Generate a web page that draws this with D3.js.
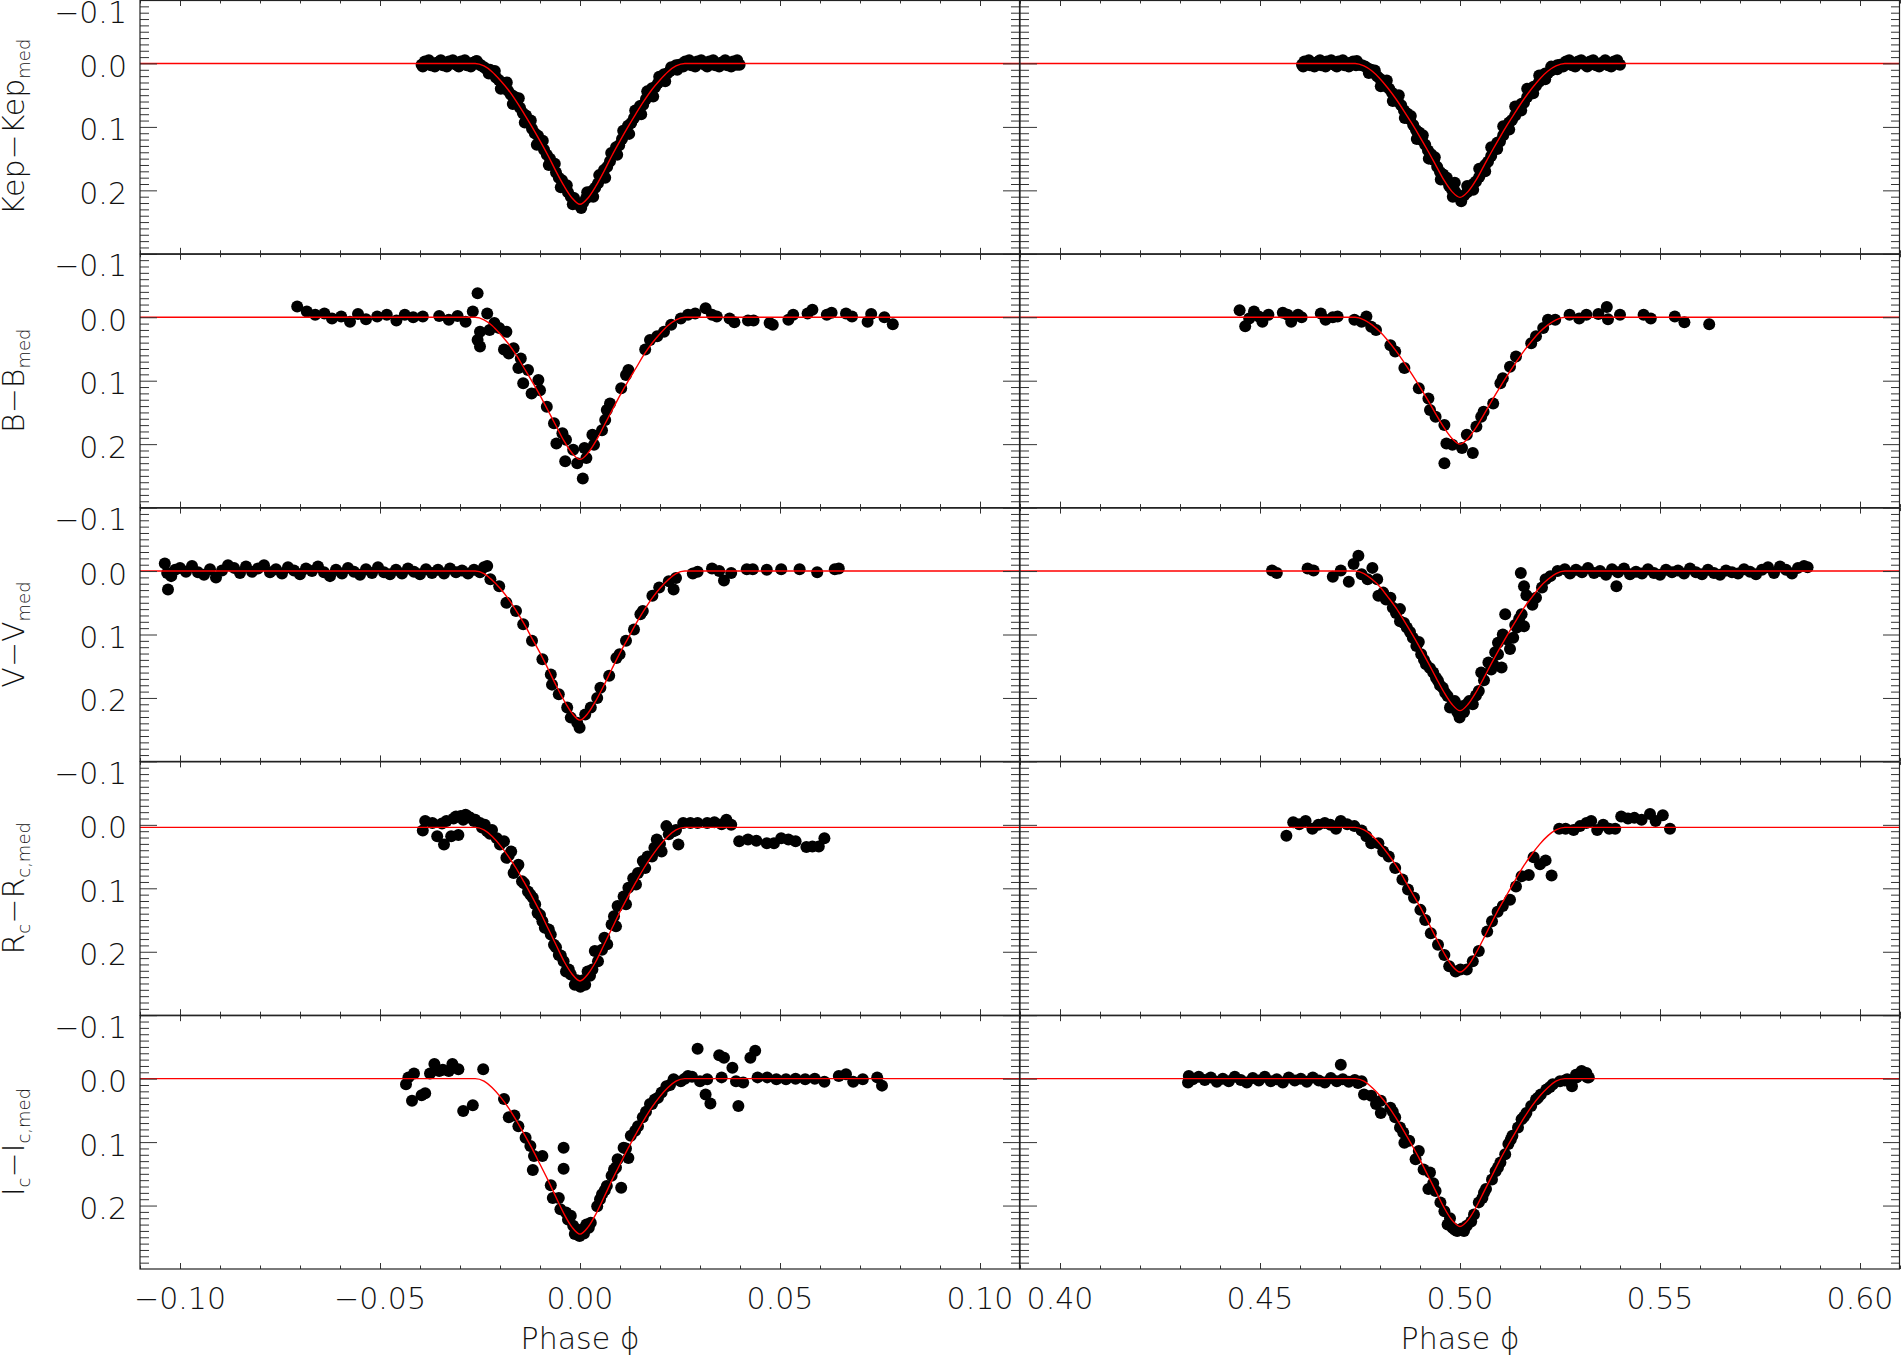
<!DOCTYPE html>
<html>
<head>
<meta charset="utf-8">
<script src="https://cdn.jsdelivr.net/npm/d3@7"></script>
<style>
  body { margin: 0; background: #fff; }
  text { font-family: "DejaVu Sans", sans-serif; font-weight: 200; fill: #111; }
</style>
</head>
<body>
<div id="chart"></div>
<script>
// ---- tick labels / categories ----
const rowNames = ["Kep", "B", "V", "Rc", "Ic"];
const yMajorTicks = [-0.1, 0.0, 0.1, 0.2];
const yTickLabels = ["\u22120.1", "0.0", "0.1", "0.2"];
const xMajorLeft = [-0.10, -0.05, 0.00, 0.05, 0.10];
const xLabelsLeft = ["\u22120.10", "\u22120.05", "0.00", "0.05", "0.10"];
const xMajorRight = [0.40, 0.45, 0.50, 0.55, 0.60];
const xLabelsRight = ["0.40", "0.45", "0.50", "0.55", "0.60"];
const eclipseCenters = [0.0, 0.5];

// ---- model light curves (phase offset from mid-eclipse, magnitude) ----
const modelDphi = [-0.0262, -0.024, -0.022, -0.020, -0.018, -0.016, -0.014, -0.012, -0.010, -0.008, -0.006, -0.004, -0.002, 0,
                   0.002, 0.004, 0.006, 0.008, 0.010, 0.012, 0.014, 0.016, 0.018, 0.020, 0.022, 0.024, 0.0262];
const modelKepP = [0, .004, .013, .026, .041, .059, .079, .100, .122, .145, .170, .193, .212, .222, .212, .193, .170, .145, .122, .100, .079, .059, .041, .026, .013, .004, 0];
const modelBP   = [0, .004, .013, .026, .041, .059, .080, .101, .123, .147, .171, .195, .214, .224, .214, .195, .171, .147, .123, .101, .080, .059, .041, .026, .013, .004, 0];
const modelVP   = [0, .004, .014, .027, .043, .062, .083, .106, .129, .154, .180, .204, .224, .235, .224, .204, .180, .154, .129, .106, .083, .062, .043, .027, .014, .004, 0];
const modelRcP  = [.004, .008, .018, .032, .049, .068, .090, .113, .137, .163, .189, .215, .235, .246, .235, .215, .189, .163, .137, .113, .090, .068, .049, .032, .018, .008, .004];
const modelIcP  = [0, .004, .014, .028, .045, .065, .087, .110, .135, .160, .187, .213, .234, .245, .234, .213, .187, .160, .135, .110, .087, .065, .045, .028, .014, .004, 0];
const modelKepS = [0, .004, .012, .024, .039, .056, .075, .095, .116, .138, .161, .184, .202, .211, .202, .184, .161, .138, .116, .095, .075, .056, .039, .024, .012, .004, 0];
const modelBS   = [0, .004, .012, .023, .037, .053, .071, .090, .110, .131, .153, .174, .191, .200, .191, .174, .153, .131, .110, .090, .071, .053, .037, .023, .012, .004, 0];
const modelVS   = [0, .004, .013, .025, .041, .058, .078, .099, .121, .144, .168, .191, .210, .220, .210, .191, .168, .144, .121, .099, .078, .058, .041, .025, .013, .004, 0];
const modelRcS  = [.004, .008, .017, .030, .046, .064, .085, .107, .129, .153, .178, .202, .222, .232, .222, .202, .178, .153, .129, .107, .085, .064, .046, .030, .017, .008, .004];
const modelIcS  = [0, .004, .014, .027, .043, .062, .083, .105, .128, .153, .178, .203, .223, .233, .223, .203, .178, .153, .128, .105, .083, .062, .043, .027, .014, .004, 0];

// ---- observations [phase, magnitude - median] ----
const kepP = [[-0.0396,0.002],[-0.0381,-0.002],[-0.0366,0.001],[-0.0351,-0.003],[-0.0336,0.002],[-0.0321,-0.001],[-0.0306,0.003],[-0.0291,-0.002],[-0.0276,0.001],[-0.0261,-0.003],[-0.0250,0.002],[-0.0240,0.006],[-0.0225,0.010],[-0.0210,0.022],[-0.0195,0.030],[-0.0180,0.043],[-0.0165,0.052],[-0.0150,0.070],[-0.0135,0.082],[-0.0120,0.103],[-0.0105,0.114],[-0.0090,0.136],[-0.0075,0.150],[-0.0060,0.172],[-0.0045,0.184],[-0.0030,0.203],[-0.0015,0.212],[0.0000,0.224],[0.0015,0.213],[0.0030,0.201],[0.0045,0.189],[0.0060,0.168],[0.0075,0.154],[0.0090,0.132],[0.0105,0.119],[0.0120,0.098],[0.0135,0.086],[0.0150,0.067],[0.0165,0.056],[0.0180,0.039],[0.0195,0.031],[0.0210,0.017],[0.0225,0.012],[0.0240,0.003],[0.0255,0.001],[0.0270,-0.002],[0.0285,0.002],[0.0300,-0.001],[0.0315,0.003],[0.0330,-0.002],[0.0345,0.001],[0.0360,-0.003],[0.0375,0.002],[0.0390,-0.001],[0.0399,0.002],
  [-0.0388,-0.003],[-0.0373,0.003],[-0.0358,-0.001],[-0.0343,0.003],[-0.0328,-0.003],[-0.0313,0.001],[-0.0298,-0.003],[-0.0283,0.003],[-0.0268,-0.001],[-0.0248,0.003],[-0.0233,0.009],[-0.0218,0.016],[-0.0203,0.026],[-0.0188,0.038],[-0.0173,0.049],[-0.0158,0.063],[-0.0143,0.078],[-0.0128,0.093],[-0.0113,0.110],[-0.0098,0.127],[-0.0083,0.144],[-0.0068,0.160],[-0.0053,0.180],[-0.0038,0.194],[-0.0023,0.210],[-0.0008,0.220],[0.0008,0.219],[0.0023,0.208],[0.0038,0.196],[0.0053,0.177],[0.0068,0.163],[0.0083,0.141],[0.0098,0.129],[0.0113,0.107],[0.0128,0.094],[0.0143,0.076],[0.0158,0.065],[0.0173,0.047],[0.0188,0.037],[0.0203,0.024],[0.0218,0.016],[0.0233,0.007],[0.0248,0.002],[0.0263,-0.003],[0.0278,0.003],[0.0293,-0.003],[0.0308,0.001],[0.0323,-0.003],[0.0338,0.003],[0.0353,-0.001],[0.0368,0.003],[0.0383,-0.003],[0.0392,0.002],
  [-0.0393,0.005],[-0.0378,-0.005],[-0.0363,0.005],[-0.0348,-0.005],[-0.0333,0.005],[-0.0318,-0.005],[-0.0303,0.005],[-0.0288,-0.005],[-0.0273,0.005],[-0.0258,-0.004],[-0.0228,0.016],[-0.0213,0.012],[-0.0198,0.040],[-0.0183,0.030],[-0.0168,0.064],[-0.0153,0.055],[-0.0138,0.093],[-0.0123,0.090],[-0.0108,0.128],[-0.0093,0.122],[-0.0078,0.160],[-0.0063,0.158],[-0.0048,0.195],[-0.0033,0.192],[-0.0018,0.222],[0.0003,0.228],[0.0018,0.203],[0.0033,0.210],[0.0048,0.176],[0.0063,0.180],[0.0078,0.141],[0.0093,0.144],[0.0108,0.106],[0.0123,0.111],[0.0138,0.074],[0.0153,0.080],[0.0168,0.044],[0.0183,0.052],[0.0198,0.021],[0.0213,0.028],[0.0228,0.006],[0.0243,0.010],[0.0258,0.005],[0.0273,-0.005],[0.0288,0.005],[0.0303,-0.005],[0.0318,0.005],[0.0333,-0.005],[0.0348,0.005],[0.0363,-0.005],[0.0378,0.005],[0.0393,-0.005]];

const kepS = [[0.4605,0.002],[0.4618,-0.002],[0.4632,0.001],[0.4646,-0.003],[0.4660,0.002],[0.4674,-0.001],[0.4688,0.003],[0.4703,-0.002],[0.4718,0.001],[0.4733,-0.003],[0.4748,0.002],[0.4763,0.005],[0.4778,0.010],[0.4793,0.020],[0.4808,0.029],[0.4823,0.040],[0.4838,0.050],[0.4853,0.066],[0.4868,0.079],[0.4883,0.097],[0.4898,0.109],[0.4913,0.128],[0.4928,0.143],[0.4943,0.163],[0.4958,0.175],[0.4973,0.193],[0.4987,0.188],[0.4988,0.202],[0.5003,0.214],[0.5018,0.203],[0.5033,0.190],[0.5048,0.179],[0.5063,0.160],[0.5078,0.146],[0.5093,0.125],[0.5108,0.113],[0.5123,0.093],[0.5138,0.082],[0.5153,0.064],[0.5168,0.053],[0.5183,0.037],[0.5198,0.029],[0.5213,0.016],[0.5228,0.011],[0.5243,0.003],[0.5258,0.001],[0.5273,-0.002],[0.5288,0.002],[0.5303,-0.001],[0.5318,0.003],[0.5333,-0.002],[0.5348,0.001],[0.5363,-0.003],[0.5378,0.002],[0.5393,-0.001],[0.5400,0.002],
  [0.4611,-0.003],[0.4625,0.003],[0.4639,-0.001],[0.4653,0.003],[0.4667,-0.003],[0.4681,0.001],[0.4696,-0.003],[0.4711,0.003],[0.4726,-0.001],[0.4740,0.003],[0.4755,0.003],[0.4770,0.008],[0.4785,0.015],[0.4800,0.024],[0.4815,0.036],[0.4830,0.046],[0.4845,0.060],[0.4860,0.074],[0.4875,0.088],[0.4890,0.105],[0.4905,0.121],[0.4920,0.137],[0.4935,0.152],[0.4950,0.171],[0.4965,0.184],[0.4980,0.199],[0.4995,0.209],[0.5010,0.208],[0.5025,0.198],[0.5040,0.186],[0.5055,0.168],[0.5070,0.155],[0.5085,0.134],[0.5100,0.123],[0.5115,0.102],[0.5130,0.089],[0.5145,0.072],[0.5160,0.062],[0.5175,0.045],[0.5190,0.035],[0.5205,0.023],[0.5220,0.015],[0.5235,0.007],[0.5250,0.002],[0.5265,-0.003],[0.5280,0.003],[0.5295,-0.003],[0.5310,0.001],[0.5325,-0.003],[0.5340,0.003],[0.5355,-0.001],[0.5370,0.003],[0.5385,-0.003],[0.5396,0.001],
  [0.4608,0.005],[0.4622,-0.005],[0.4636,0.005],[0.4650,-0.005],[0.4664,0.005],[0.4678,-0.005],[0.4692,0.005],[0.4707,-0.005],[0.4722,0.005],[0.4742,-0.004],[0.4772,0.015],[0.4787,0.011],[0.4802,0.036],[0.4817,0.027],[0.4832,0.059],[0.4847,0.050],[0.4862,0.086],[0.4877,0.083],[0.4892,0.119],[0.4907,0.113],[0.4922,0.150],[0.4937,0.148],[0.4952,0.183],[0.4967,0.180],[0.4982,0.210],[0.5003,0.217],[0.5018,0.193],[0.5033,0.199],[0.5048,0.166],[0.5063,0.170],[0.5078,0.132],[0.5093,0.135],[0.5108,0.099],[0.5123,0.104],[0.5138,0.068],[0.5153,0.074],[0.5168,0.040],[0.5183,0.047],[0.5198,0.019],[0.5213,0.025],[0.5228,0.005],[0.5243,0.009],[0.5258,0.005],[0.5273,-0.005],[0.5288,0.005],[0.5303,-0.005],[0.5318,0.005],[0.5333,-0.005],[0.5348,0.005],[0.5363,-0.005],[0.5378,0.005],[0.5393,-0.005]];

const bP = [[-0.0707,-0.017],[-0.0683,-0.009],[-0.0662,-0.004],[-0.0639,-0.006],[-0.0620,0.002],[-0.0597,-0.001],[-0.0575,0.007],[-0.0555,-0.005],[-0.0535,0.003],[-0.0507,-0.001],[-0.0483,-0.004],[-0.0459,0.005],[-0.0438,-0.004],[-0.0417,0.000],[-0.0393,-0.001],[-0.0352,-0.002],[-0.0328,0.004],[-0.0306,-0.002],[-0.0286,0.007],[-0.0268,-0.009],[-0.0256,-0.038],[-0.0250,0.023],[-0.0256,0.036],[-0.0250,0.046],[-0.0232,-0.006],[-0.0226,0.020],[-0.0214,0.009],[-0.0202,0.017],[-0.0184,0.023],[-0.0190,0.051],[-0.0178,0.057],[-0.0166,0.049],[-0.0148,0.065],[-0.0154,0.080],[-0.0130,0.083],[-0.0142,0.104],[-0.0104,0.099],[-0.0121,0.120],[-0.0100,0.115],[-0.0083,0.141],[-0.0065,0.167],[-0.0059,0.199],[-0.0044,0.183],[-0.0035,0.193],[-0.0037,0.227],[-0.0017,0.209],[-0.0007,0.230],[0.0007,0.254],[0.0011,0.206],[0.0016,0.222],[0.0035,0.201],[0.0031,0.185],[0.0055,0.178],[0.0063,0.162],[0.0067,0.146],[0.0075,0.136],[0.0103,0.112],[0.0115,0.091],[0.0121,0.083],[0.0163,0.051],[0.0175,0.036],[0.0193,0.030],[0.0210,0.023],[0.0228,0.012],[0.0252,0.002],[0.0270,-0.004],[0.0288,-0.006],[0.0314,-0.014],[0.0330,-0.004],[0.0342,-0.001],[0.0374,0.002],[0.0386,0.008],[0.0420,0.005],[0.0434,0.005],[0.0474,0.009],[0.0482,0.012],[0.0521,0.004],[0.0533,-0.004],[0.0569,-0.006],[0.0581,-0.012],[0.0617,-0.004],[0.0629,-0.007],[0.0665,-0.006],[0.0680,-0.001],[0.0719,0.007],[0.0728,-0.005],[0.0761,0.000],[0.0782,0.011]];

const bS = [[0.4449,-0.011],[0.4463,0.014],[0.4473,0.002],[0.4485,-0.009],[0.4497,-0.001],[0.4506,0.007],[0.4521,-0.004],[0.4557,-0.007],[0.4569,-0.004],[0.4578,0.007],[0.4595,-0.004],[0.4604,0.000],[0.4652,-0.006],[0.4664,0.004],[0.4682,0.000],[0.4694,-0.001],[0.4736,0.004],[0.4754,0.007],[0.4766,-0.001],[0.4778,0.015],[0.4790,0.020],[0.4826,0.044],[0.4838,0.054],[0.4861,0.080],[0.4897,0.112],[0.4921,0.128],[0.4925,0.146],[0.4939,0.157],[0.4961,0.170],[0.4966,0.199],[0.4961,0.230],[0.4981,0.201],[0.5005,0.206],[0.5017,0.185],[0.5032,0.214],[0.5041,0.172],[0.5053,0.157],[0.5059,0.149],[0.5083,0.136],[0.5101,0.104],[0.5107,0.096],[0.5125,0.078],[0.5140,0.062],[0.5178,0.041],[0.5190,0.030],[0.5208,0.017],[0.5220,0.004],[0.5238,0.004],[0.5274,-0.004],[0.5298,0.002],[0.5316,-0.004],[0.5346,-0.005],[0.5367,-0.016],[0.5370,0.003],[0.5400,-0.004],[0.5459,-0.004],[0.5477,0.002],[0.5537,-0.001],[0.5561,0.008],[0.5623,0.011]];

const vP = [[-0.1038,-0.012],[-0.1032,0.003],[-0.1030,0.029],[-0.1022,0.008],[-0.1012,-0.002],[-0.1000,-0.005],[-0.0985,0.001],[-0.0970,-0.008],[-0.0955,0.002],[-0.0940,0.006],[-0.0925,-0.003],[-0.0910,0.010],[-0.0895,-0.001],[-0.0880,-0.009],[-0.0865,-0.005],[-0.0850,0.003],[-0.0835,-0.007],[-0.0820,0.001],[-0.0805,-0.004],[-0.0790,-0.009],[-0.0775,0.002],[-0.0760,-0.003],[-0.0745,0.004],[-0.0730,-0.006],[-0.0715,-0.001],[-0.0700,0.005],[-0.0685,-0.004],[-0.0670,0.000],[-0.0655,-0.007],[-0.0640,0.002],[-0.0625,0.008],[-0.0610,-0.002],[-0.0595,0.004],[-0.0580,-0.005],[-0.0565,0.001],[-0.0550,0.006],[-0.0535,-0.003],[-0.0520,0.003],[-0.0505,-0.006],[-0.0490,0.002],[-0.0475,0.005],[-0.0460,-0.002],[-0.0445,0.004],[-0.0430,-0.004],[-0.0415,0.001],[-0.0400,0.005],[-0.0385,-0.003],[-0.0370,0.003],[-0.0355,-0.002],[-0.0340,0.004],[-0.0325,-0.004],[-0.0310,0.002],[-0.0295,-0.001],[-0.0280,0.004],[-0.0265,-0.002],[-0.0250,0.002],[-0.0240,-0.006],
  [-0.0232,-0.008],[-0.0224,0.013],[-0.0202,0.024],[-0.0184,0.050],[-0.0160,0.063],[-0.0142,0.084],[-0.0120,0.110],[-0.0094,0.139],[-0.0073,0.163],[-0.0070,0.179],[-0.0053,0.194],[-0.0032,0.215],[-0.0023,0.231],[-0.0007,0.239],[-0.0001,0.247],[0.0013,0.226],[0.0027,0.215],[0.0043,0.200],[0.0051,0.184],[0.0073,0.165],[0.0091,0.137],[0.0099,0.131],[0.0115,0.110],[0.0135,0.092],[0.0151,0.068],[0.0157,0.063],[0.0181,0.039],[0.0198,0.026],[0.0222,0.016],[0.0234,0.029],[0.0240,0.011],[0.0282,0.004],[0.0294,0.001],[0.0330,-0.004],[0.0348,0.000],[0.0360,0.015],[0.0378,0.003],[0.0417,-0.003],[0.0432,-0.003],[0.0467,-0.002],[0.0503,-0.003],[0.0549,-0.003],[0.0593,0.002],[0.0637,-0.003],[0.0647,-0.004]];

const vS = [[0.4530,-0.001],[0.4542,0.003],[0.4619,-0.004],[0.4634,-0.001],[0.4682,0.009],[0.4702,-0.001],[0.4722,0.017],[0.4734,-0.011],[0.4746,-0.024],[0.4754,0.005],[0.4769,0.013],[0.4781,-0.005],[0.4793,0.013],[0.4796,0.039],[0.4808,0.034],[0.4826,0.042],[0.4832,0.058],[0.4850,0.060],[0.4850,0.079],[0.4867,0.089],[0.4882,0.105],[0.4891,0.118],[0.4903,0.131],[0.4915,0.147],[0.4933,0.160],[0.4945,0.173],[0.4957,0.184],[0.4969,0.197],[0.4975,0.215],[0.4987,0.205],[0.4999,0.231],[0.5005,0.213],[0.5023,0.205],[0.5032,0.210],[0.5047,0.189],[0.5053,0.160],[0.5071,0.144],[0.5083,0.147],[0.5095,0.131],[0.5104,0.152],[0.5095,0.113],[0.5107,0.100],[0.5113,0.068],[0.5125,0.123],[0.5133,0.105],[0.5142,0.089],[0.5154,0.068],[0.5160,0.087],[0.5152,0.003],[0.5160,0.024],[0.5166,0.038],[0.5181,0.053],[0.5190,0.042],[0.5205,0.026],[0.5214,0.013],[0.5226,0.008],[0.5244,0.000],
  [0.4815,0.045],[0.4840,0.066],[0.4860,0.082],[0.4875,0.096],[0.4897,0.112],[0.4910,0.140],[0.4925,0.153],[0.4940,0.168],[0.4950,0.180],[0.4963,0.192],[0.4980,0.212],[0.4993,0.222],[0.5010,0.222],[0.5017,0.210],[0.5040,0.196],[0.5060,0.172],[0.5078,0.155],[0.5088,0.128],[0.5118,0.108],[0.5138,0.085],[0.5148,0.075],
  [0.5262,-0.003],[0.5275,0.004],[0.5290,-0.002],[0.5305,0.002],[0.5320,-0.005],[0.5335,0.003],[0.5350,0.000],[0.5365,0.006],[0.5380,-0.003],[0.5391,0.024],[0.5395,0.002],[0.5410,-0.004],[0.5425,0.005],[0.5440,0.001],[0.5455,0.004],[0.5470,-0.003],[0.5485,0.003],[0.5500,0.006],[0.5515,-0.002],[0.5530,0.002],[0.5545,-0.001],[0.5560,0.004],[0.5575,-0.004],[0.5590,0.002],[0.5605,0.005],[0.5620,-0.002],[0.5635,0.003],[0.5650,0.006],[0.5665,-0.001],[0.5680,0.002],[0.5695,0.004],[0.5710,-0.003],[0.5725,0.001],[0.5740,0.005],[0.5755,-0.002],[0.5770,-0.006],[0.5785,0.003],[0.5800,-0.007],[0.5815,-0.002],[0.5830,0.004],[0.5845,-0.005],[0.5860,-0.008],[0.5869,-0.006]];

const rcP = [[-0.0387,-0.006],[-0.0393,0.009],[-0.0369,-0.003],[-0.0357,0.018],[-0.0340,0.031],[-0.0334,-0.006],[-0.0322,0.018],[-0.0310,-0.013],[-0.0304,0.016],[-0.0286,-0.016],[-0.0274,-0.011],[-0.0262,-0.008],[-0.0250,-0.003],[-0.0238,0.000],[-0.0232,0.010],[-0.0220,0.008],[-0.0208,0.021],[-0.0190,0.026],[-0.0184,0.052],[-0.0172,0.042],[-0.0166,0.076],[-0.0154,0.063],[-0.0145,0.089],[-0.0130,0.105],[-0.0118,0.115],[-0.0106,0.139],[-0.0094,0.152],[-0.0088,0.162],[-0.0073,0.173],[-0.0065,0.189],[-0.0053,0.205],[-0.0041,0.215],[-0.0035,0.231],[-0.0023,0.236],[-0.0013,0.252],[0.0001,0.255],[0.0013,0.252],[0.0019,0.231],[0.0031,0.228],[0.0037,0.199],[0.0055,0.197],[0.0061,0.178],[0.0079,0.157],[0.0085,0.144],[0.0094,0.128],[0.0109,0.113],[0.0121,0.099],[0.0133,0.084],[0.0145,0.076],[0.0157,0.057],[0.0169,0.050],[0.0186,0.036],[0.0192,0.023],[0.0204,0.042],[0.0216,0.002],[0.0234,0.010],[0.0246,0.031],[0.0258,-0.003],[0.0276,-0.003],[0.0294,-0.003],[0.0318,-0.003],[0.0336,-0.004],[0.0354,-0.001],[0.0366,-0.008],[0.0378,0.000],[0.0398,0.026],[0.0420,0.023],[0.0441,0.025],[0.0467,0.029],[0.0485,0.029],[0.0503,0.021],[0.0521,0.023],[0.0539,0.026],[0.0566,0.035],[0.0581,0.034],[0.0597,0.034],[0.0611,0.021],
  [-0.0316,-0.010],[-0.0298,-0.014],[-0.0280,-0.013],[-0.0292,-0.008],[-0.0265,-0.006],[-0.0345,-0.002],[-0.0245,0.004],[-0.0225,0.014],[-0.0200,0.031],[-0.0178,0.048],[-0.0160,0.068],[-0.0140,0.092],[-0.0124,0.110],[-0.0112,0.125],[-0.0100,0.142],[-0.0078,0.165],[-0.0060,0.193],[-0.0048,0.206],[-0.0028,0.228],[-0.0008,0.245],[0.0008,0.245],[0.0025,0.238],[0.0045,0.215],[0.0068,0.188],[0.0090,0.160],[0.0115,0.125],[0.0140,0.094],[0.0163,0.068],[0.0180,0.050],[0.0200,0.030],[0.0222,0.015],[0.0240,0.008]];

const rcS = [[0.4566,0.017],[0.4583,-0.004],[0.4598,-0.001],[0.4614,-0.006],[0.4631,0.006],[0.4646,0.000],[0.4662,-0.003],[0.4676,0.000],[0.4690,0.006],[0.4702,-0.006],[0.4718,-0.001],[0.4736,0.002],[0.4754,0.009],[0.4766,0.018],[0.4778,0.029],[0.4796,0.029],[0.4808,0.042],[0.4822,0.050],[0.4838,0.068],[0.4856,0.086],[0.4870,0.102],[0.4885,0.115],[0.4901,0.134],[0.4913,0.150],[0.4927,0.171],[0.4945,0.189],[0.4961,0.205],[0.4973,0.223],[0.4989,0.231],[0.5001,0.228],[0.5017,0.228],[0.5032,0.215],[0.5047,0.199],[0.5068,0.168],[0.5080,0.152],[0.5094,0.137],[0.5107,0.128],[0.5125,0.118],[0.5140,0.097],[0.5154,0.081],[0.5172,0.079],[0.5184,0.051],[0.5200,0.062],[0.5214,0.056],[0.5229,0.080],[0.5248,0.006],[0.5264,0.006],[0.5284,0.008],[0.5300,0.002],[0.5316,-0.003],[0.5328,-0.006],[0.5343,0.008],[0.5358,0.000],[0.5373,0.006],[0.5388,0.006],[0.5403,-0.013],[0.5420,-0.010],[0.5436,-0.011],[0.5454,-0.008],[0.5475,-0.017],[0.5489,-0.006],[0.5507,-0.015],[0.5525,0.006]];

const icP = [[-0.0435,0.009],[-0.0429,-0.002],[-0.0420,0.035],[-0.0415,-0.008],[-0.0396,0.026],[-0.0387,0.023],[-0.0375,-0.008],[-0.0364,-0.023],[-0.0352,-0.012],[-0.0343,-0.014],[-0.0328,-0.012],[-0.0319,-0.023],[-0.0304,-0.015],[-0.0292,0.051],[-0.0268,0.042],[-0.0242,-0.015],[-0.0190,0.032],[-0.0178,0.061],[-0.0164,0.058],[-0.0154,0.075],[-0.0136,0.093],[-0.0124,0.106],[-0.0115,0.122],[-0.0118,0.144],[-0.0094,0.122],[-0.0073,0.168],[-0.0068,0.188],[-0.0053,0.188],[-0.0049,0.206],[-0.0041,0.109],[-0.0041,0.142],[-0.0035,0.211],[-0.0023,0.216],[-0.0017,0.232],[-0.0013,0.245],[-0.0001,0.248],[0.0007,0.237],[0.0016,0.230],[0.0027,0.227],[0.0043,0.201],[0.0055,0.182],[0.0067,0.169],[0.0079,0.153],[0.0085,0.143],[0.0103,0.172],[0.0094,0.127],[0.0109,0.109],[0.0121,0.125],[0.0127,0.090],[0.0145,0.075],[0.0157,0.061],[0.0175,0.040],[0.0187,0.033],[0.0204,0.022],[0.0216,0.012],[0.0234,0.001],[0.0252,0.004],[0.0270,-0.004],[0.0294,-0.047],[0.0300,0.004],[0.0314,0.025],[0.0326,0.039],[0.0318,0.001],[0.0348,-0.037],[0.0360,-0.033],[0.0354,-0.002],[0.0381,-0.017],[0.0396,0.043],[0.0390,0.004],[0.0408,0.006],[0.0426,-0.033],[0.0438,-0.044],[0.0444,-0.002],[0.0468,-0.002],[0.0491,0.001],[0.0515,0.001],[0.0539,0.000],[0.0563,0.001],[0.0587,0.000],[0.0611,0.005],[0.0647,-0.004],[0.0665,-0.007],[0.0683,0.005],[0.0707,0.001],[0.0743,-0.002],[0.0755,0.011],
  [0.0050,0.190],[0.0062,0.176],[0.0090,0.140],[0.0115,0.110],[0.0138,0.082],[0.0165,0.052],[0.0180,0.040],[0.0195,0.030],[0.0225,0.010],[0.0262,0.000],[0.0280,-0.003],[-0.0030,0.222],[-0.0008,0.238],[0.0010,0.244],[0.0022,0.235]];

const icS = [[0.4320,0.006],[0.4322,-0.004],[0.4332,0.001],[0.4347,-0.003],[0.4362,0.002],[0.4377,-0.002],[0.4392,0.005],[0.4407,0.000],[0.4422,0.004],[0.4437,-0.003],[0.4452,0.002],[0.4467,0.006],[0.4482,-0.001],[0.4497,0.003],[0.4512,-0.003],[0.4527,0.004],[0.4542,0.001],[0.4557,0.006],[0.4572,-0.002],[0.4587,0.003],[0.4602,0.000],[0.4617,0.005],[0.4632,-0.002],[0.4647,0.003],[0.4662,0.006],[0.4677,-0.001],[0.4692,0.004],[0.4702,-0.022],[0.4707,0.001],[0.4722,0.005],[0.4737,0.002],[0.4745,0.007],
  [0.4754,0.004],[0.4760,0.025],[0.4778,0.027],[0.4802,0.035],[0.4802,0.054],[0.4826,0.046],[0.4838,0.061],[0.4850,0.077],[0.4861,0.101],[0.4873,0.098],[0.4889,0.127],[0.4897,0.114],[0.4909,0.143],[0.4925,0.148],[0.4921,0.174],[0.4939,0.177],[0.4951,0.195],[0.4961,0.209],[0.4969,0.230],[0.4981,0.235],[0.4993,0.240],[0.5005,0.236],[0.5017,0.232],[0.5035,0.214],[0.5047,0.195],[0.5056,0.188],[0.5065,0.174],[0.5080,0.159],[0.5089,0.146],[0.5101,0.132],[0.5113,0.119],[0.5121,0.103],[0.5131,0.090],[0.5145,0.077],[0.5154,0.064],[0.5166,0.054],[0.5178,0.043],[0.5190,0.033],[0.5202,0.025],[0.5216,0.017],[0.5232,0.009],[0.5250,0.004],[0.5268,0.001],[0.5280,0.012],[0.5292,-0.002],[0.5304,-0.012],[0.5316,-0.009],[0.5322,-0.002],
  [0.4790,0.040],[0.4832,0.052],[0.4858,0.085],[0.4933,0.165],[0.4975,0.220],[0.4987,0.238],[0.5010,0.240],[0.5028,0.225],[0.5060,0.180],[0.5095,0.140],[0.5127,0.096],[0.5160,0.060],[0.5195,0.030],[0.5225,0.013],[0.5262,0.003],[0.5290,-0.006],[0.5308,-0.008],[0.5318,-0.002]];

// ---- build rows from the arrays above ----
const rows = [
  { data: [kepP, kepS], model: [modelKepP, modelKepS], main: "Kep", sub1: "", mid: "\u2212Kep", sub2: "med" },
  { data: [bP, bS],     model: [modelBP, modelBS],     main: "B",   sub1: "", mid: "\u2212B",   sub2: "med" },
  { data: [vP, vS],     model: [modelVP, modelVS],     main: "V",   sub1: "", mid: "\u2212V",   sub2: "med" },
  { data: [rcP, rcS],   model: [modelRcP, modelRcS],   main: "R",   sub1: "c", mid: "\u2212R",  sub2: "c,med" },
  { data: [icP, icS],   model: [modelIcP, modelIcS],   main: "I",   sub1: "c", mid: "\u2212I",  sub2: "c,med" }
];

// ---- layout ----
const width = 1901, height = 1357;
const rowH = 253.8;
const colRange = [[140, 1020], [1020, 1900]];
const xDomains = [[-0.11, 0.11], [0.39, 0.61]];
const xMajors = [xMajorLeft, xMajorRight];
const xLabels = [xLabelsLeft, xLabelsRight];
const isMajor = (v, step) => Math.abs(v / step - Math.round(v / step)) < 1e-6;

const svg = d3.select("#chart").append("svg")
  .attr("width", width).attr("height", height);

rows.forEach((row, i) => {
  const top = i * rowH, bottom = top + rowH;
  const y = d3.scaleLinear().domain([-0.1, 0.3]).range([top, bottom]);
  const yMinor = y.ticks(40).filter(v => !isMajor(v, 0.1));

  [0, 1].forEach(c => {
    const x = d3.scaleLinear().domain(xDomains[c]).range(colRange[c]);
    const [x0, x1] = colRange[c];
    const g = svg.append("g");

    const clipId = `clip-${i}-${c}`;
    g.append("clipPath").attr("id", clipId)
      .append("rect").attr("x", x0).attr("y", top).attr("width", x1 - x0).attr("height", rowH);
    const plot = g.append("g").attr("clip-path", `url(#${clipId})`);

    // observations
    plot.append("g").selectAll("circle")
      .data(row.data[c])
      .join("circle")
      .attr("cx", d => x(d[0]))
      .attr("cy", d => y(d[1]))
      .attr("r", 6)
      .attr("fill", "#000");

    // model curve over the full panel width
    const m = row.model[c];
    const pts = [[xDomains[c][0], m[0]]]
      .concat(modelDphi.map((o, k) => [eclipseCenters[c] + o, m[k]]))
      .concat([[xDomains[c][1], m[m.length - 1]]]);
    plot.append("path")
      .attr("d", d3.line().x(d => x(d[0])).y(d => y(d[1])).curve(d3.curveMonotoneX)(pts))
      .attr("fill", "none")
      .attr("stroke", "#f00")
      .attr("stroke-width", 1.4);

    // axes: ticks pointing into the panel
    const axG = g.append("g").attr("color", "#333");
    const strip = s => s.call(a => a.select(".domain").remove()).call(a => a.selectAll("text").remove());

    axG.append("g").attr("transform", `translate(${x0},0)`)
      .call(d3.axisLeft(y).tickValues(yMajorTicks).tickSize(-17).tickSizeOuter(0)).call(strip);
    axG.append("g").attr("transform", `translate(${x0},0)`)
      .call(d3.axisLeft(y).tickValues(yMinor).tickSize(-9).tickSizeOuter(0)).call(strip);
    axG.append("g").attr("transform", `translate(${x1},0)`)
      .call(d3.axisRight(y).tickValues(yMajorTicks).tickSize(-17).tickSizeOuter(0)).call(strip);
    axG.append("g").attr("transform", `translate(${x1},0)`)
      .call(d3.axisRight(y).tickValues(yMinor).tickSize(-9).tickSizeOuter(0)).call(strip);

    const xMinor = x.ticks(22).filter(v => !isMajor(v, 0.05));
    axG.append("g").attr("transform", `translate(0,${top})`)
      .call(d3.axisTop(x).tickValues(xMajors[c]).tickSize(-6).tickSizeOuter(0)).call(strip);
    axG.append("g").attr("transform", `translate(0,${top})`)
      .call(d3.axisTop(x).tickValues(xMinor).tickSize(-3.5).tickSizeOuter(0)).call(strip);
    axG.append("g").attr("transform", `translate(0,${bottom})`)
      .call(d3.axisBottom(x).tickValues(xMajors[c]).tickSize(-6).tickSizeOuter(0)).call(strip);
    axG.append("g").attr("transform", `translate(0,${bottom})`)
      .call(d3.axisBottom(x).tickValues(xMinor).tickSize(-3.5).tickSizeOuter(0)).call(strip);

    // frame
    g.append("rect")
      .attr("x", x0).attr("y", top + 0.5).attr("width", x1 - x0 - 0.5).attr("height", rowH - 0.5)
      .attr("fill", "none").attr("stroke", "#222").attr("stroke-width", 1.2);

    // x tick labels on the bottom row
    if (i === rows.length - 1) {
      g.append("g").selectAll("text")
        .data(xMajors[c])
        .join("text")
        .attr("x", d => x(d))
        .attr("y", 1309)
        .attr("text-anchor", "middle")
        .attr("font-size", 30)
        .text((d, k) => xLabels[c][k]);
      g.append("text")
        .attr("x", (x0 + x1) / 2)
        .attr("y", 1349)
        .attr("text-anchor", "middle")
        .attr("font-size", 30)
        .text("Phase \u03d5");
    }
  });

  // y tick labels (left column only)
  svg.append("g").selectAll("text")
    .data(yMajorTicks)
    .join("text")
    .attr("x", 127)
    .attr("y", d => y(d) + (d < 0 ? 22.5 : 13.5))
    .attr("text-anchor", "end")
    .attr("font-size", 30)
    .text((d, k) => yTickLabels[k]);

  // y axis title, rotated
  const title = svg.append("text")
    .attr("transform", `translate(24,${top + rowH / 2}) rotate(-90)`)
    .attr("text-anchor", "middle")
    .attr("font-size", 30);
  title.append("tspan").text(row.main);
  if (row.sub1) title.append("tspan").attr("font-size", 18).attr("dy", 6).text(row.sub1);
  title.append("tspan").attr("dy", row.sub1 ? -6 : 0).text(row.mid);
  title.append("tspan").attr("font-size", 18).attr("dy", 6).text(row.sub2);
});
</script>
</body>
</html>
